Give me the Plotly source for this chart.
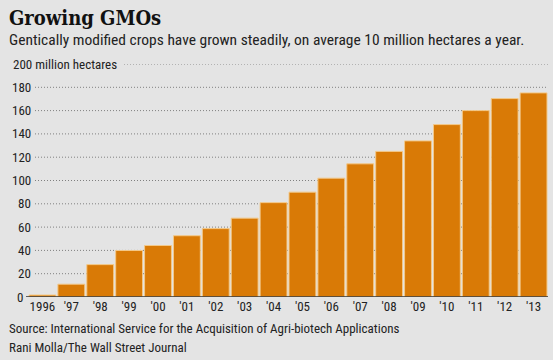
import plotly.graph_objects as go

years = ["1996", "'97", "'98", "'99", "'00", "'01", "'02", "'03", "'04", "'05",
         "'06", "'07", "'08", "'09", "'10", "'11", "'12", "'13"]
hectares = [1.7, 11.0, 27.8, 39.9, 44.2, 52.6, 58.7, 67.7, 81.0, 90.0,
            102.0, 114.3, 125.0, 134.0, 148.0, 160.0, 170.3, 175.2]
ytick_vals = [0, 20, 40, 60, 80, 100, 120, 140, 160, 180, 200]
ytick_text = ["0", "20", "40", "60", "80", "100", "120", "140", "160", "180", "200 million hectares"]

W, H = 553, 360
L, R, T, B = 28, 5, 64, 63
PW = W - L - R
PH = H - T - B

BG = "#e4e4e4"
BAR = "#d97a06"
FONT = "Liberation Sans Narrow, Roboto Condensed, DejaVu Sans Condensed, sans-serif"
TXT = "#222"


def px_x(px):
    return (px - L) / PW


def px_y(py):
    return (H - B - py) / PH


fig = go.Figure()
fig.add_trace(go.Bar(
    x=list(range(len(years))), y=hectares,
    marker=dict(color=BAR, line=dict(color="#f3c98a", width=1)),
    width=0.93,
    hoverinfo="skip",
))

shapes = []
annotations = []
for v, t in zip(ytick_vals, ytick_text):
    f = dict(size=13, color=TXT, family=FONT)
    if v == 0:
        annotations.append(dict(x=0, xref="paper", y=v, yref="y", text=t,
                                xanchor="right", yanchor="middle", xshift=-3,
                                showarrow=False, font=f))
        continue
    if v == 200:
        annotations.append(dict(x=px_x(11), xref="paper", y=v, yref="y", text=t,
                                xanchor="left", yanchor="middle",
                                showarrow=False, font=f))
        x0 = px_x(124)
    else:
        annotations.append(dict(x=0, xref="paper", y=v, yref="y", text=t,
                                xanchor="right", yanchor="middle", xshift=5,
                                showarrow=False, font=f))
        x0 = px_x(35)
    shapes.append(dict(type="line", xref="paper", yref="y", x0=x0, x1=1, y0=v, y1=v,
                       line=dict(color="#808080", width=1, dash="1px,2px"), layer="below"))

# x axis baseline
shapes.append(dict(type="line", xref="paper", yref="y", x0=px_x(26), x1=1, y0=0, y1=0,
                   line=dict(color="#333", width=1.5), layer="above"))

annotations += [
    dict(x=px_x(7), y=px_y(4), xref="paper", yref="paper", xanchor="left", yanchor="top",
         text="<b>Growing GMOs</b>", showarrow=False,
         font=dict(size=20, color="#111", family="DejaVu Serif Condensed, DejaVu Serif, serif")),
    dict(x=px_x(7), y=px_y(29), xref="paper", yref="paper", xanchor="left", yanchor="top",
         text="Gentically modified crops have grown steadily, on average 10 million hectares a year.",
         showarrow=False, font=dict(size=15.5, color=TXT, family=FONT)),
    dict(x=px_x(7), y=px_y(319), xref="paper", yref="paper", xanchor="left", yanchor="top",
         text="Source: International Service for the Acquisition of Agri-biotech Applications",
         showarrow=False, font=dict(size=13, color=TXT, family=FONT)),
    dict(x=px_x(7), y=px_y(338), xref="paper", yref="paper", xanchor="left", yanchor="top",
         text="Rani Molla/The Wall Street Journal",
         showarrow=False, font=dict(size=13, color=TXT, family=FONT)),
]

fig.update_layout(
    width=W, height=H,
    margin=dict(l=L, r=R, t=T, b=B),
    paper_bgcolor=BG, plot_bgcolor=BG,
    showlegend=False,
    xaxis=dict(range=[-0.5, len(years) - 0.5], tickmode="array",
               tickvals=list(range(len(years))), ticktext=years,
               showgrid=False, zeroline=False, showline=False, ticks="",
               tickfont=dict(size=13, color=TXT, family=FONT), fixedrange=True),
    yaxis=dict(range=[0, 200], showgrid=False, zeroline=False, showline=False,
               showticklabels=False, ticks="", fixedrange=True),
    shapes=shapes,
    annotations=annotations,
)

fig.write_html("out.html", config={"displayModeBar": False},
               post_script="document.body.style.margin='0';document.body.style.background='%s';" % BG)
